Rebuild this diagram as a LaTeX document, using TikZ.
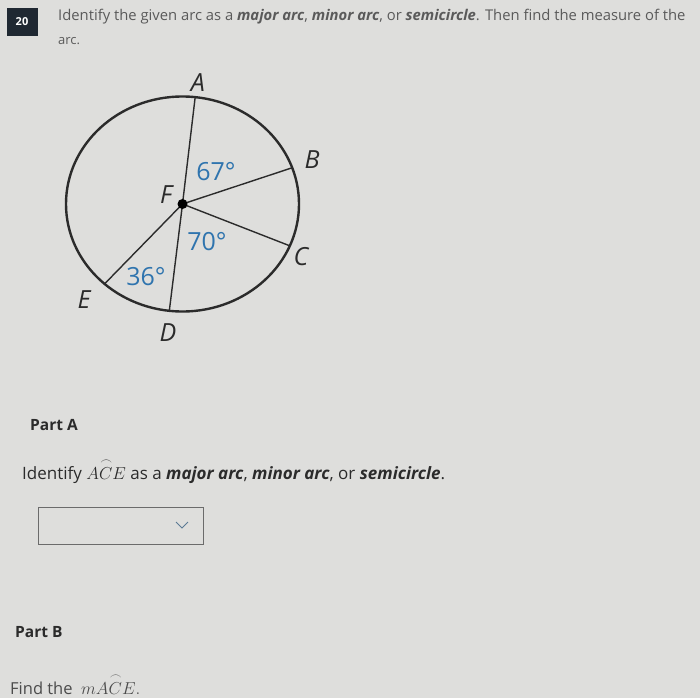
\documentclass[tikz,border=0pt]{standalone}
\usepackage{amsmath}
\usepackage{fontspec}
\setmainfont{Open Sans}
\usetikzlibrary{calc}
\definecolor{bg}{HTML}{DEDEDC}
\definecolor{ink}{HTML}{2B2B2B}
\definecolor{headink}{HTML}{5A5A5A}
\definecolor{degblue}{HTML}{2F74AE}
\definecolor{badge}{HTML}{1F2832}
\begin{document}
\begin{tikzpicture}[x=1pt,y=-1pt,
  radius line/.style={draw=ink,line width=1.4pt},
  ptlabel/.style={font=\fontsize{25}{28}\selectfont\itshape,text=ink,inner sep=0pt},
  deglabel/.style={font=\fontsize{25}{27}\selectfont,text=degblue,inner sep=0pt},
  bodytext/.style={anchor=west,inner sep=0pt,text=ink},
  parthead/.style={anchor=west,inner sep=0pt,text=ink,font=\fontsize{15.5}{18}\selectfont\bfseries}]
\useasboundingbox (0,0) rectangle (700,698);
\fill[bg] (0,0) rectangle (700,698);
% badge and heading
\node[fill=badge,text=white,minimum width=31pt,minimum height=28pt,inner sep=0pt,font=\fontsize{11}{12}\selectfont\bfseries] (badge) at (22,22) {20};
\node[bodytext,text=headink,font=\fontsize{14.8}{17}\selectfont] (head1) at (58,17)
  {Identify the given arc as a \textbf{\textit{major arc}}, \textbf{\textit{minor arc}}, or \textbf{\textit{semicircle}}. Then find the measure of the};
\node[bodytext,text=headink,font=\fontsize{13}{15}\selectfont] (head2) at (58,41) {arc.};
% circle
\coordinate (Fc) at (182.5,204);
\draw[ink,line width=2.4pt] (Fc) ellipse [x radius=116.5, y radius=107.5];
\coordinate (A) at ($(Fc)+({116.5*cos(-83.75)},{107.5*sin(-83.75)})$);
\coordinate (B) at ($(Fc)+({116.5*cos(-19.7)},{107.5*sin(-19.7)})$);
\coordinate (C) at ($(Fc)+({116.5*cos(22.9)},{107.5*sin(22.9)})$);
\coordinate (D) at ($(Fc)+({116.5*cos(96.5)},{107.5*sin(96.5)})$);
\coordinate (E) at ($(Fc)+({116.5*cos(132)},{107.5*sin(132)})$);
\draw[radius line] (Fc) -- (A);
\draw[radius line] (Fc) -- (B);
\draw[radius line] (Fc) -- (C);
\draw[radius line] (Fc) -- (D);
\draw[radius line] (Fc) -- (E);
\node[circle,fill=black,minimum size=10pt,inner sep=0pt] (F) at (Fc) {};
% point labels
\node[ptlabel] (lA) at (198,83) {A};
\node[ptlabel] (lB) at (312,160) {B};
\node[ptlabel] (lC) at (301,257) {C};
\node[ptlabel] (lD) at (168,333) {D};
\node[ptlabel] (lE) at (84,300) {E};
\node[ptlabel] (lF) at (166,195) {F};
% angle labels
\node[deglabel] (d67) at (216,172) {67°};
\node[deglabel] (d70) at (207,242) {70°};
\node[deglabel] (d36) at (146,277) {36°};
% Part A
\node[parthead] (partA) at (30,425) {Part A};
\node[bodytext,font=\fontsize{17}{20}\selectfont] (qA) at (22,471)
  {Identify $\overset{\frown}{ACE}$ as a \textbf{\textit{major arc}}, \textbf{\textit{minor arc}}, or \textbf{\textit{semicircle}}.};
\node[draw=ink!70,line width=1pt,minimum width=165pt,minimum height=37pt,inner sep=0pt,anchor=north west] (box) at (38,507) {};
\draw[degblue!45!gray,line width=1pt] ($(box.east)+(-28,-4)$) -- ($(box.east)+(-22,2)$) -- ($(box.east)+(-16,-4)$);
% Part B
\node[parthead] (partB) at (15,632) {Part B};
\node[bodytext,font=\fontsize{16.5}{19}\selectfont,text=ink!85] (qB) at (10,684) {Find the \ $m\overset{\frown}{ACE}.$};
\end{tikzpicture}
\end{document}
